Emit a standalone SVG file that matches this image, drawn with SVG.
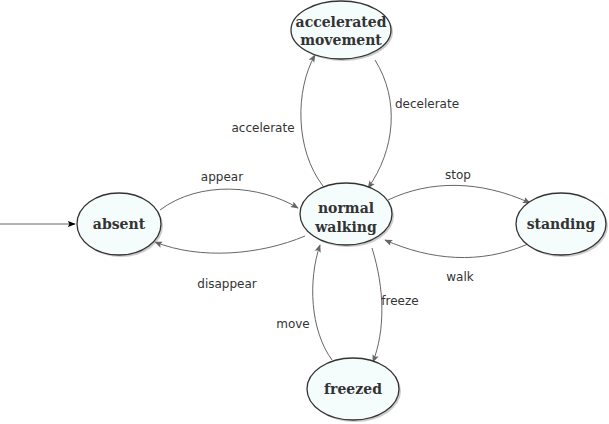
<svg xmlns="http://www.w3.org/2000/svg" width="609" height="424" viewBox="0 0 609 424">
<style>
.n{fill:#f5fcfc;stroke:#333;stroke-width:1.3}
.s{fill:#999;opacity:.5}
.t{font-family:"DejaVu Serif","Liberation Serif",serif;font-weight:bold;font-size:14px;fill:#333;text-anchor:middle}
.e{fill:none;stroke:#666;stroke-width:1}
.l{font-family:"DejaVu Sans","Liberation Sans",sans-serif;font-size:12px;fill:#333;text-anchor:middle}
</style>
<defs>
<marker id="a" viewBox="0 0 10 10" refX="9" refY="5" markerWidth="8" markerHeight="8" orient="auto" markerUnits="userSpaceOnUse"><path d="M0,1 L10,5 L0,9 L2,5 Z" fill="#666"/></marker>
<marker id="b" viewBox="0 0 10 10" refX="9" refY="5" markerWidth="8" markerHeight="8" orient="auto" markerUnits="userSpaceOnUse"><path d="M0,1 L10,5 L0,9 L2,5 Z" fill="#000"/></marker>
</defs>
<g id="connectors">
<path class="e" d="M0,224 L75,224" stroke="#000" marker-end="url(#b)"/>
<path class="e" d="M160,210 C200,180 260,185 298,208" marker-end="url(#a)"/>
<path class="e" d="M305,236 C260,255 200,260 155,242" marker-end="url(#a)"/>
<path class="e" d="M323,186 C295,150 295,90 315,55" marker-end="url(#a)"/>
<path class="e" d="M375,60 C400,100 395,150 368,188" marker-end="url(#a)"/>
<path class="e" d="M388,200 C430,180 480,180 530,203" marker-end="url(#a)"/>
<path class="e" d="M528,244 C480,265 430,260 385,240" marker-end="url(#a)"/>
<path class="e" d="M372,248 C385,290 385,330 373,362" marker-end="url(#a)"/>
<path class="e" d="M332,360 C310,330 308,280 320,245" marker-end="url(#a)"/>
<text class="l" x="222" y="181">appear</text>
<text class="l" x="227" y="288">disappear</text>
<text class="l" x="263" y="132">accelerate</text>
<text class="l" x="427" y="108">decelerate</text>
<text class="l" x="458" y="179">stop</text>
<text class="l" x="460" y="281">walk</text>
<text class="l" x="400" y="305">freeze</text>
<text class="l" x="293" y="328">move</text>
</g>
<g id="accelerated"><ellipse class="s" cx="343" cy="32" rx="50" ry="29"/><ellipse class="n" cx="341" cy="30" rx="50" ry="29"/><text class="t" x="341" y="27">accelerated</text><text class="t" x="341" y="45">movement</text></g>
<g id="normal"><ellipse class="s" cx="348" cy="216" rx="46" ry="31"/><ellipse class="n" cx="346" cy="214" rx="46" ry="31"/><text class="t" x="346" y="213">normal</text><text class="t" x="346" y="232">walking</text></g>
<g id="absent"><ellipse class="s" cx="121" cy="226" rx="42" ry="31"/><ellipse class="n" cx="119" cy="224" rx="42" ry="31"/><text class="t" x="119" y="229">absent</text></g>
<g id="standing"><ellipse class="s" cx="563" cy="226" rx="45" ry="31"/><ellipse class="n" cx="561" cy="224" rx="45" ry="31"/><text class="t" x="561" y="229">standing</text></g>
<g id="freezed"><ellipse class="s" cx="355" cy="391" rx="46" ry="31"/><ellipse class="n" cx="353" cy="389" rx="46" ry="31"/><text class="t" x="353" y="394">freezed</text></g>
</svg>
